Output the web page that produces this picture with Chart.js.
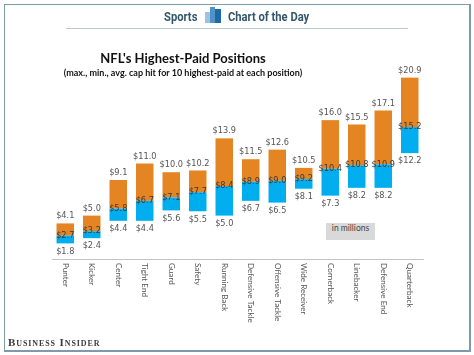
<!DOCTYPE html>
<html>
<head>
<meta charset="utf-8">
<script src="https://cdn.jsdelivr.net/npm/chart.js@4"></script>
<style>
  html, body { margin: 0; padding: 0; background: #fff; }
  #wrap { position: relative; width: 474px; height: 355px; overflow: hidden; }
  #chart { position: absolute; left: 0; top: 0; }
  #frame { position: absolute; left: 4px; top: 4px; width: 464px; height: 345px; border: 2px solid #7f9aa8; border-top-width: 1px; border-left-width: 1px; }
  .txt { position: absolute; white-space: nowrap; }
  #sports, #day { top: 9px; font: bold 13px Roboto, sans-serif; color: #34566b; transform-origin: left top; transform: scaleX(0.86); }
  #sports { left: 164px; }
  #day { left: 228px; }
  #rule { position: absolute; left: 66px; top: 28px; width: 342px; height: 1px; background: #b9c9d3; }
  .ico { position: absolute; }
  #title { left: 63px; width: 240px; top: 50px; text-align: center; font: bold 13px Lato, sans-serif; color: #111; }
  #sub { left: 33px; width: 300px; top: 67px; text-align: center; font: bold 9px Lato, sans-serif; color: #111; }
  #unit { left: 326px; top: 223px; width: 49px; height: 17px; line-height: 17px; text-align: center; background: #d9d9d9; font: 8.5px Lato, sans-serif; color: #444; }
  #brand { left: 8px; top: 336px; font: bold 11px "Liberation Serif", serif; font-variant: small-caps; letter-spacing: 0.9px; color: #3b3b3b; }
</style>
</head>
<body>
<div id="wrap">
  <canvas id="chart" width="474" height="355"></canvas>
  <div id="frame"></div>
  <span class="txt" id="sports">Sports</span>
  <div class="ico" style="left:205px;top:12px;width:5px;height:11px;background:#9cc3e0"></div>
  <div class="ico" style="left:210px;top:7px;width:5px;height:16px;background:#4f93c8"></div>
  <div class="ico" style="left:215px;top:9px;width:6px;height:14px;background:#1f6aa5"></div>
  <span class="txt" id="day">Chart of the Day</span>
  <div id="rule"></div>
  <div class="txt" id="title">NFL's Highest-Paid Positions</div>
  <div class="txt" id="sub">(max., min., avg. cap hit for 10 highest-paid at each position)</div>
  <div class="txt" id="unit">in millions</div>
  <div class="txt" id="brand">Business Insider</div>
</div>
<script>
const positions = ["Punter", "Kicker", "Center", "Tight End", "Guard", "Safety", "Running Back", "Defensive Tackle", "Offensive Tackle", "Wide Receiver", "Cornerback", "Linebacker", "Defensive End", "Quarterback"];
const minHit = [1.8, 2.4, 4.4, 4.4, 5.6, 5.5, 5.0, 6.7, 6.5, 8.1, 7.3, 8.2, 8.2, 12.2];
const avgHit = [2.7, 3.2, 5.8, 6.7, 7.1, 7.7, 8.4, 8.9, 9.0, 9.2, 10.4, 10.8, 10.9, 15.2];
const maxHit = [4.1, 5.0, 9.1, 11.0, 10.0, 10.2, 13.9, 11.5, 12.6, 10.5, 16.0, 15.5, 17.1, 20.9];

const money = (v) => "$" + v.toFixed(1);

// min / avg / max labels around each bar, plus the position names
// (the built-in ticks can't start a top-to-bottom label at the axis)
const valueLabels = {
  id: "valueLabels",
  afterDatasetsDraw(chart) {
    const { ctx, scales } = chart;
    ctx.save();
    ctx.font = '8.2px "DejaVu Sans", sans-serif';
    ctx.textAlign = "center";
    positions.forEach((name, i) => {
      const x = scales.x.getPixelForValue(i);
      ctx.fillStyle = "#555";
      ctx.textBaseline = "bottom";
      ctx.fillText(money(maxHit[i]), x, scales.y.getPixelForValue(maxHit[i]) - 3);
      ctx.textBaseline = "top";
      ctx.fillText(money(minHit[i]), x, scales.y.getPixelForValue(minHit[i]) + 4);
      ctx.fillStyle = "#3a3a3a";
      ctx.textBaseline = "middle";
      ctx.fillText(money(avgHit[i]), x, scales.y.getPixelForValue(avgHit[i]));
    });
    ctx.font = "8.1px Lato, sans-serif";
    ctx.fillStyle = "#555";
    ctx.textAlign = "left";
    positions.forEach((name, i) => {
      ctx.save();
      ctx.translate(scales.x.getPixelForValue(i), scales.x.top + 4);
      ctx.rotate(Math.PI / 2);
      ctx.fillText(scales.x.getLabelForValue(i), 0, 0);
      ctx.restore();
    });
    ctx.restore();
  },
};

new Chart(document.getElementById("chart"), {
  type: "bar",
  data: {
    labels: positions,
    datasets: [
      {
        label: "Min to avg",
        data: positions.map((p, i) => [minHit[i], avgHit[i]]),
        backgroundColor: "#00aeef",
        grouped: false,
      },
      {
        label: "Avg to max",
        data: positions.map((p, i) => [avgHit[i], maxHit[i]]),
        backgroundColor: "#e58423",
        grouped: false,
      },
    ],
  },
  options: {
    responsive: false,
    animation: false,
    layout: { padding: { left: 52, right: 51, top: 16, bottom: 0 } },
    plugins: { legend: { display: false }, tooltip: { enabled: false } },
    datasets: { bar: { categoryPercentage: 1, barPercentage: 0.66 } },
    scales: {
      x: {
        grid: { display: false, drawTicks: false },
        border: { color: "#c4c4c4", width: 1 },
        afterFit(scale) { scale.height = 96; },
        ticks: { display: false },
      },
      y: {
        display: false,
        min: 0,
        max: 28,
      },
    },
  },
  plugins: [valueLabels],
});
</script>
</body>
</html>
